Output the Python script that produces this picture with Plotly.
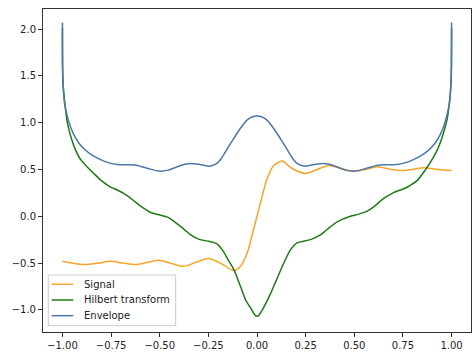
import plotly.graph_objects as go

# Envelope
env_x = [-1.0, -0.998, -0.99, -0.975, -0.958, -0.941, -0.915, -0.889, -0.85, -0.804, -0.76, -0.718,
         -0.667, -0.615, -0.56, -0.504, -0.46, -0.42, -0.37, -0.342, -0.30, -0.248, -0.21, -0.187,
         -0.153, -0.12, -0.085, -0.05, -0.02, 0.0, 0.02, 0.05, 0.085, 0.12, 0.153, 0.187, 0.21, 0.248,
         0.30, 0.342, 0.37, 0.42, 0.46, 0.504, 0.56, 0.615, 0.667, 0.718, 0.76, 0.804, 0.85, 0.889,
         0.915, 0.941, 0.958, 0.975, 0.99, 0.998, 1.0]
env_y = [2.07, 1.50, 1.22, 1.07, 0.95, 0.87, 0.78, 0.72, 0.655, 0.605, 0.57, 0.553,
         0.55, 0.543, 0.51, 0.482, 0.49, 0.52, 0.555, 0.564, 0.555, 0.535, 0.56, 0.607,
         0.72, 0.83, 0.94, 1.03, 1.065, 1.07, 1.065, 1.03, 0.94, 0.83, 0.72, 0.607, 0.56, 0.535,
         0.555, 0.564, 0.555, 0.52, 0.49, 0.482, 0.51, 0.543, 0.55, 0.553, 0.57, 0.605, 0.655, 0.72,
         0.78, 0.87, 0.95, 1.07, 1.22, 1.50, 2.07]

# Signal
sig_x = [-1.0, -0.94, -0.881, -0.815, -0.752, -0.69, -0.624, -0.565, -0.504, -0.44, -0.376, -0.31,
         -0.248, -0.18, -0.119, -0.085, -0.05, -0.025, 0.0, 0.025, 0.05, 0.085, 0.129, 0.18, 0.249,
         0.31, 0.369, 0.44, 0.497, 0.56, 0.617, 0.69, 0.754, 0.81, 0.857, 0.93, 1.0]
sig_y = [-0.482, -0.505, -0.517, -0.50, -0.482, -0.50, -0.517, -0.495, -0.471, -0.505, -0.535, -0.49,
         -0.453, -0.51, -0.581, -0.535, -0.39, -0.2, 0.0, 0.2, 0.39, 0.54, 0.589, 0.51, 0.457,
         0.50, 0.543, 0.505, 0.482, 0.50, 0.529, 0.50, 0.489, 0.505, 0.518, 0.50, 0.489]

# Hilbert transform
hil_x = [-1.0, -0.998, -0.99, -0.984, -0.975, -0.958, -0.935, -0.907, -0.87, -0.838, -0.80, -0.752,
         -0.718, -0.667, -0.633, -0.598, -0.547, -0.504, -0.46, -0.427, -0.38, -0.342, -0.30, -0.248,
         -0.21, -0.179, -0.15, -0.119, -0.085, -0.059, -0.033, -0.008, 0.0, 0.008, 0.033, 0.069, 0.10,
         0.138, 0.172, 0.206, 0.249, 0.275, 0.326, 0.36, 0.412, 0.48, 0.52, 0.566, 0.60, 0.651, 0.70,
         0.754, 0.788, 0.823, 0.874, 0.89, 0.92, 0.942, 0.96, 0.977, 0.989, 0.998, 1.0]
hil_y = [2.01, 1.45, 1.25, 1.14, 1.0, 0.857, 0.72, 0.607, 0.52, 0.455, 0.38, 0.31,
         0.28, 0.22, 0.165, 0.107, 0.04, 0.015, -0.01, -0.054, -0.13, -0.196, -0.245, -0.268,
         -0.29, -0.357, -0.46, -0.571, -0.749, -0.892, -0.98, -1.063, -1.068, -1.063, -0.98, -0.83, -0.68,
         -0.5, -0.36, -0.285, -0.262, -0.25, -0.2, -0.142, -0.06, 0.0, 0.02, 0.054, 0.10, 0.19, 0.25,
         0.293, 0.33, 0.38, 0.52, 0.572, 0.68, 0.786, 0.9, 1.035, 1.214, 1.45, 2.01]

series_names = ["Signal", "Hilbert transform", "Envelope"]
series_colors = ["#f5a52a", "#1e7a12", "#4a78a8"]

x_ticks = [-1.0, -0.75, -0.5, -0.25, 0.0, 0.25, 0.5, 0.75, 1.0]
x_ticktext = ["−1.00", "−0.75", "−0.50", "−0.25", "0.00", "0.25", "0.50", "0.75", "1.00"]
y_ticks = [-1.0, -0.5, 0.0, 0.5, 1.0, 1.5, 2.0]
y_ticktext = ["−1.0", "−0.5", "0.0", "0.5", "1.0", "1.5", "2.0"]

fig = go.Figure()
for (xs, ys), name, color in zip([(sig_x, sig_y), (hil_x, hil_y), (env_x, env_y)],
                                 series_names, series_colors):
    fig.add_trace(go.Scatter(x=xs, y=ys, mode="lines", name=name, showlegend=False,
                             line=dict(color=color, width=1.5, shape="spline", smoothing=0.8)))

# Manual legend (matplotlib-like compact layout)
shapes = [dict(type="rect", xref="paper", yref="paper", x0=0.0124, x1=0.310, y0=0.0195, y1=0.1765,
               line=dict(color="#cccccc", width=1), fillcolor="rgba(255,255,255,0.8)", layer="above")]
annotations = []
entry_y = [0.1477, 0.0991, 0.0505]
for name, color, yy in zip(series_names, series_colors, entry_y):
    shapes.append(dict(type="line", xref="paper", yref="paper", x0=0.0203, x1=0.0708, y0=yy, y1=yy,
                       line=dict(color=color, width=1.5), layer="above"))
    annotations.append(dict(xref="paper", yref="paper", x=0.0904, y=yy, text=name, showarrow=False,
                            xanchor="left", yanchor="middle",
                            font=dict(family="DejaVu Sans", size=10, color="#222222")))

axis_common = dict(showgrid=False, zeroline=False, showline=True, linecolor="#333333", linewidth=1,
                   mirror=True, ticks="outside", ticklen=4, tickcolor="#333333",
                   tickfont=dict(family="DejaVu Sans", size=10, color="#222222"))
fig.update_xaxes(range=[-1.1, 1.1], tickvals=x_ticks, ticktext=x_ticktext, **axis_common)
fig.update_yaxes(range=[-1.237, 2.214], tickvals=y_ticks, ticktext=y_ticktext, **axis_common)

fig.update_layout(
    width=474, height=353,
    margin=dict(l=43, r=3, t=9, b=21),
    paper_bgcolor="white", plot_bgcolor="white",
    font=dict(family="DejaVu Sans", size=10, color="#222222"),
    showlegend=False,
    shapes=shapes, annotations=annotations,
)

fig.write_html("out.html")
